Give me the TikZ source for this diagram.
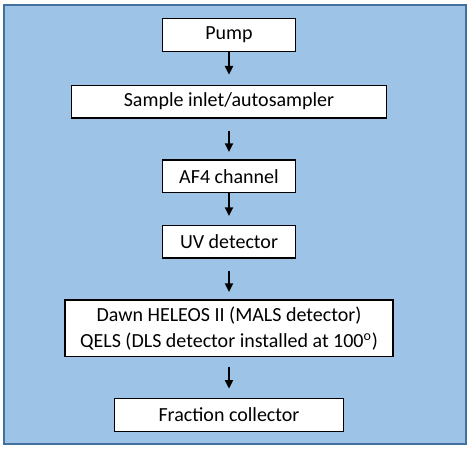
\documentclass[tikz,border=0pt]{standalone}
\usepackage{fontspec}
\setmainfont{Carlito}
\usetikzlibrary{positioning, arrows.meta}
\definecolor{panelblue}{HTML}{9DC3E6}
\definecolor{panelline}{HTML}{41719C}

\begin{document}
\begin{tikzpicture}[
  x=0.75pt, y=-0.75pt,
  font=\fontsize{15}{19.5}\selectfont,
  box/.style={draw=black, fill=white, line width=1pt, minimum height=24.5pt,
    align=center, inner sep=3pt},
  arr/.style={-{Triangle[length=6.5pt, width=6pt]}, line width=1.5pt, black}
]
\useasboundingbox (0,0) rectangle (474,456);
\draw[panelline, fill=panelblue, line width=1.2pt] (4,5) rectangle (466,444);

\node[box, minimum width=99.5pt] (pump) at (229,35) {Pump};
\node[box, minimum width=236pt, below=24.5pt of pump] (inlet) {Sample inlet/autosampler};
\node[box, minimum width=99.5pt, below=30.5pt of inlet] (af4) {AF4 channel};
\node[box, minimum width=99.5pt, below=23.5pt of af4] (uv) {UV detector};
\node[box, minimum width=246pt, minimum height=42.5pt, below=30.5pt of uv] (mals)
  {Dawn HELEOS II (MALS detector)\\QELS (DLS detector installed at 100\textsuperscript{o})};
\node[box, minimum width=172pt, below=30.5pt of mals] (frac) {Fraction collector};

\draw[arr, shorten >=7.5pt] (pump) -- (inlet);
\draw[arr, shorten <=9pt, shorten >=5.5pt] (inlet) -- (af4);
\draw[arr, shorten >=6.5pt] (af4) -- (uv);
\draw[arr, shorten <=9pt, shorten >=5.5pt] (uv) -- (mals);
\draw[arr, shorten <=7pt, shorten >=7pt] (mals) -- (frac);
\end{tikzpicture}
\end{document}
